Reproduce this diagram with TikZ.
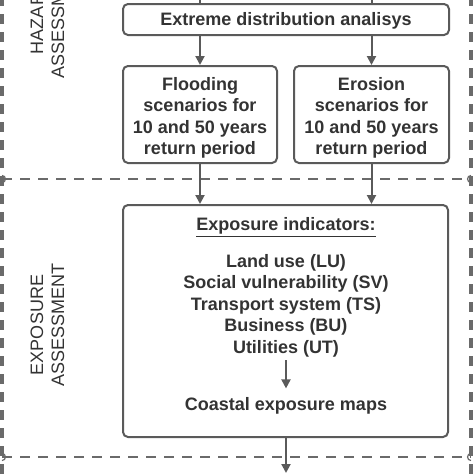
\documentclass[tikz,border=0pt]{standalone}
\usepackage{fontspec}
\setmainfont{Liberation Sans}
\usetikzlibrary{arrows.meta}
\definecolor{boxc}{HTML}{5A5A5A}
\definecolor{txt}{HTML}{333333}
\definecolor{lanec}{HTML}{6A6A6A}
\begin{document}
\begin{tikzpicture}[x=1pt,y=-1pt,
  box/.style={draw=boxc, line width=2pt, rounded corners=5pt, inner sep=0pt},
  arr/.style={draw=boxc, line width=2pt, -{Triangle[width=9pt,length=9pt]}},
  feed/.style={draw=boxc, line width=2pt},
  lane/.style={draw=lanec, line width=2.2pt, dash pattern=on 10pt off 8pt},
  vlane/.style={draw=lanec, line width=3.5pt, dash pattern=on 10pt off 8pt},
  lbl/.style={text=txt, font=\fontsize{18}{21}\selectfont, align=center, rotate=90, inner sep=0pt},
  itm/.style={text=txt, font=\fontsize{18}{21.5}\selectfont\bfseries, align=center, inner sep=0pt}]
\useasboundingbox (0,0) rectangle (474,474);
\clip (0,0) rectangle (474,474);
% swim lanes
\draw[vlane] (2,-4) -- (2,480);
\draw[vlane] (471,-4) -- (471,480);
\draw[lane] (2,179) -- (471,179);
\draw[lane] (2,457) -- (471,457);
\draw[lanec, line width=1.2pt] (2,175.5) arc[start angle=90, end angle=-90, radius=3.5pt];
\draw[lanec, line width=1.2pt] (471,175.5) arc[start angle=90, end angle=270, radius=3.5pt];
\draw[lanec, line width=1.2pt] (2,453.5) arc[start angle=90, end angle=-90, radius=3.5pt];
\draw[lanec, line width=1.2pt] (471,453.5) arc[start angle=90, end angle=270, radius=3.5pt];
% lane labels
\node[lbl] (hazlbl) at (47.5,17) {HAZARD\\ASSESSMENT};
\node[lbl] (explbl) at (47.5,325) {EXPOSURE\\ASSESSMENT};
% boxes
\node[box, minimum width=326pt, minimum height=31pt] (extreme) at (286,19.5) {};
\node[box, minimum width=154pt, minimum height=97pt] (flood) at (200,114.5) {};
\node[box, minimum width=155pt, minimum height=97pt] (erosion) at (371.5,114.5) {};
\node[box, minimum width=325pt, minimum height=232pt] (expo) at (285.5,321) {};
% texts
\node[itm] (extremetxt) at (286,21) {Extreme distribution analisys};
\node[itm] (floodtxt) at (200,118) {Flooding\\scenarios for\\10 and 50 years\\return period};
\node[itm] (erosiontxt) at (371.5,118) {Erosion\\scenarios for\\10 and 50 years\\return period};
\node[itm] (title) at (286,227) {\underline{Exposure indicators:}};
\node[itm] (list) at (286,305.5) {Land use (LU)\\Social vulnerability (SV)\\Transport system (TS)\\Business (BU)\\Utilities (UT)};
\node[itm] (maps) at (286,406) {Coastal exposure maps};
% connectors
\coordinate (in1) at (200,-10);
\coordinate (in2) at (371.5,-10);
\coordinate (out) at (286,473);
\draw[feed] (in1) -- (in1 |- extreme.north);
\draw[feed] (in2) -- (in2 |- extreme.north);
\draw[arr] (extreme.south -| flood.north) -- (flood.north);
\draw[arr] (extreme.south -| erosion.north) -- (erosion.north);
\draw[arr] (flood.south) -- (flood.south |- expo.north);
\draw[arr] (erosion.south) -- (erosion.south |- expo.north);
\draw[arr, shorten <=3pt, shorten >=9pt] (list.south) -- (maps.north);
\draw[arr] (expo.south -| out) -- (out);
\end{tikzpicture}
\end{document}
